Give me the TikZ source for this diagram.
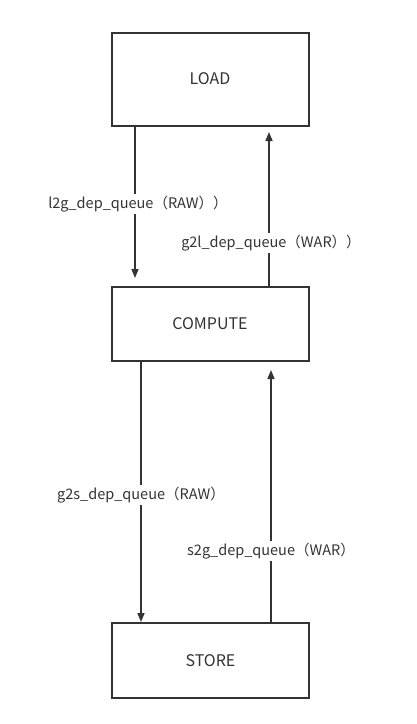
\documentclass[tikz,border=0pt]{standalone}
\usepackage{fontspec}
\setmainfont{Noto Sans CJK SC}
\usetikzlibrary{arrows.meta}
\definecolor{ln}{HTML}{333333}
\definecolor{tx}{HTML}{333333}
\begin{document}
\begin{tikzpicture}[x=1pt,y=-1pt,
  blk/.style={draw=ln,line width=2pt,minimum width=197pt,minimum height=93pt,inner sep=0pt,text=tx,font=\fontsize{16}{18}\selectfont},
  conn/.style={draw=ln,line width=1.6pt,-{Triangle[length=9pt,width=7pt]}},
  lbl/.style={fill=white,inner sep=1.5pt,text=tx,font=\fontsize{14.5}{16}\selectfont}]
\useasboundingbox[fill=white] (0,0) rectangle (416,724);
\node[blk] (load) at (210,79) {LOAD};
\node[blk,minimum height=74pt] (comp) at (210,324) {COMPUTE};
\node[blk,minimum height=75pt] (store) at (210.5,660.5) {STORE};
\coordinate (a1) at (135,126);
\coordinate (a1e) at (135,278);
\coordinate (a2) at (269,287);
\coordinate (a2e) at (269,132);
\coordinate (a3) at (141,361);
\coordinate (a3e) at (141,622);
\coordinate (a4) at (271,623);
\coordinate (a4e) at (271,370);
\draw[conn] (a1) -- (a1e);
\draw[conn] (a2) -- (a2e);
\draw[conn] (a3) -- (a3e);
\draw[conn] (a4) -- (a4e);
\node[lbl] (l1) at (138,204) {l2g\_dep\_queue（RAW））};
\node[lbl] (l2) at (271,243) {g2l\_dep\_queue（WAR））};
\node[lbl] (l3) at (141,495) {g2s\_dep\_queue（RAW）};
\node[lbl] (l4) at (271,551) {s2g\_dep\_queue（WAR）};
\end{tikzpicture}
\end{document}
